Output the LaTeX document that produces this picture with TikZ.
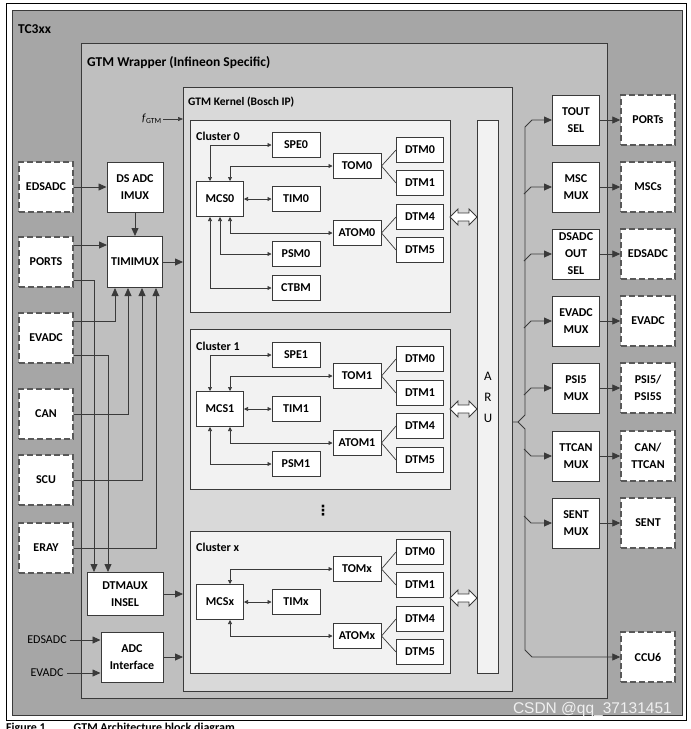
\documentclass[tikz,border=0pt]{standalone}
\usepackage{fontspec}
\setmainfont{Carlito}
\newfontfamily\wmfont{Liberation Sans}
\newfontfamily\symfont{DejaVu Sans}
\usetikzlibrary{arrows.meta}
\definecolor{tcgray}{HTML}{A6A6A6}
\definecolor{wrapgray}{HTML}{BFBFBF}
\definecolor{kergray}{HTML}{D9D9D9}
\definecolor{clgray}{HTML}{F2F2F2}
\definecolor{edge}{HTML}{3A3A3A}
\tikzset{
 box/.style={draw=edge,line width=1pt,fill=white,inner sep=0pt,align=center,
   font=\fontsize{12}{17}\selectfont\bfseries},
 modbox/.style={box,minimum width=48pt,minimum height=25pt},
 dtmbox/.style={box,minimum width=47pt,minimum height=25pt},
 mcsbox/.style={box,minimum width=47pt,minimum height=35pt},
 muxbox/.style={box,minimum width=47pt,minimum height=50pt},
 extbox/.style={box,draw=edge!85,dash pattern=on 6pt off 3pt,line width=1.4pt,
   minimum width=54pt,minimum height=50pt},
 panel/.style={draw=edge,line width=1pt,inner sep=0pt,anchor=north west},
 boxtitle/.style={anchor=west,inner sep=0pt,font=\fontsize{13.5}{16}\selectfont\bfseries},
 arr/.style={draw=edge,line width=0.8pt,-{Triangle[length=8pt,width=7pt]}},
 thinarr/.style={draw=edge,line width=0.6pt,-{Triangle[length=5pt,width=4pt]}},
 biarr/.style={draw=edge,line width=0.7pt,
   {Triangle[length=4pt,width=4pt]}-{Triangle[length=4pt,width=4pt]}},
 wire/.style={draw=edge,line width=0.7pt},
}

\begin{document}
\begin{tikzpicture}[x=1pt,y=-1pt]
        \useasboundingbox (0,0) rectangle (691,729);
        \draw[black,line width=0.8pt,fill=white] (6,3) rectangle (686,720);

        \node[panel,fill=tcgray,minimum width=670pt,minimum height=705pt] (tc) at (12,10) {};
        \node[boxtitle] (tctitle) at (18,29) {TC3xx};
        \node[panel,fill=wrapgray,minimum width=526pt,minimum height=655pt] (wrapper) at (81,43) {};
        \node[boxtitle] (wraptitle) at (87,63) {GTM Wrapper (Infineon Specific)};
        \node[panel,fill=kergray,minimum width=329pt,minimum height=604pt] (kernel) at (183,87) {};
        \node[boxtitle,font=\fontsize{11.5}{14}\selectfont\bfseries] (kertitle) at (188,102) {GTM Kernel (Bosch IP)};

        \node[panel,fill=clgray,minimum width=260pt,minimum height=192pt] (cluster0) at (190,120) {};
        \node[panel,fill=clgray,minimum width=260pt,minimum height=160pt] (cluster1) at (190,329) {};
        \node[panel,fill=clgray,minimum width=260pt,minimum height=142pt] (clusterx) at (190,531) {};
        \node[panel,fill=clgray,minimum width=21pt,minimum height=553pt,align=center,
              font=\fontsize{13}{21}\selectfont] (aru) at (477,120) {A\\R\\U};

        \foreach \y in {217,409,598}
            \draw[draw=edge,line width=0.8pt,fill=white] (450,\y) -- (458,\y-8) -- (458,\y-4) -- (469,\y-4)
                -- (469,\y-8) -- (477,\y) -- (469,\y+8) -- (469,\y+4) -- (458,\y+4) -- (458,\y+8) -- cycle;

        \node[anchor=east,inner sep=1pt,font=\fontsize{11}{13}\selectfont] (fgtm) at (163,119) {\textit{f}\textsubscript{GTM}};
        \draw[thinarr] (fgtm.east) -- (fgtm.east -| kernel.west);

        % cluster 0
        \node[boxtitle,font=\fontsize{12}{14}\selectfont\bfseries] (cl0title) at (196,136) {Cluster 0};
        \node[mcsbox] (mcs0) at (220,199) {MCS0};
        \node[modbox] (spe0) at (296,145) {SPE0};
        \node[modbox] (tim0) at (296,199) {TIM0};
        \node[modbox] (psm0) at (296,254) {PSM0};
        \node[modbox] (ctbm0) at (296,288) {CTBM};
        \node[modbox] (tom0) at (357,166) {TOM0};
        \node[modbox] (atom0) at (357,233) {ATOM0};
        \node[dtmbox] (dtm00) at (420,150) {DTM0};
        \node[dtmbox] (dtm01) at (420,183) {DTM1};
        \node[dtmbox] (dtm04) at (420,217) {DTM4};
        \node[dtmbox] (dtm05) at (420,250) {DTM5};
        \draw[biarr] ([xshift=-10pt]mcs0.north) |- (spe0);
        \draw[biarr] ([xshift=10pt]mcs0.north) |- (tom0);
        \draw[biarr] (mcs0) -- (tim0);
        \draw[biarr] ([xshift=10pt]mcs0.south) |- (atom0);
        \draw[biarr] (mcs0.south) |- (psm0);
        \draw[biarr] ([xshift=-10pt]mcs0.south) |- (ctbm0);
        \draw[wire] (tom0.east) -- (dtm00.west) (tom0.east) -- (dtm01.west)
                    (atom0.east) -- (dtm04.west) (atom0.east) -- (dtm05.west);

        % cluster 1
        \node[boxtitle,font=\fontsize{12}{14}\selectfont\bfseries] (cl1title) at (196,346) {Cluster 1};
        \node[mcsbox] (mcs1) at (220,409) {MCS1};
        \node[modbox] (spe1) at (296,355) {SPE1};
        \node[modbox] (tim1) at (296,409) {TIM1};
        \node[modbox] (psm1) at (296,464) {PSM1};
        \node[modbox] (tom1) at (357,376) {TOM1};
        \node[modbox] (atom1) at (357,443) {ATOM1};
        \node[dtmbox] (dtm10) at (420,359) {DTM0};
        \node[dtmbox] (dtm11) at (420,393) {DTM1};
        \node[dtmbox] (dtm14) at (420,426) {DTM4};
        \node[dtmbox] (dtm15) at (420,460) {DTM5};
        \draw[biarr] ([xshift=-10pt]mcs1.north) |- (spe1);
        \draw[biarr] ([xshift=10pt]mcs1.north) |- (tom1);
        \draw[biarr] (mcs1) -- (tim1);
        \draw[biarr] ([xshift=10pt]mcs1.south) |- (atom1);
        \draw[biarr] ([xshift=-10pt]mcs1.south) |- (psm1);
        \draw[wire] (tom1.east) -- (dtm10.west) (tom1.east) -- (dtm11.west)
                    (atom1.east) -- (dtm14.west) (atom1.east) -- (dtm15.west);

        \node[font=\symfont\bfseries\fontsize{14}{14}\selectfont,inner sep=0pt] (dots) at (323,511) {⋮};

        % cluster x
        \node[boxtitle,font=\fontsize{12}{14}\selectfont\bfseries] (clxtitle) at (196,547) {Cluster x};
        \node[mcsbox] (mcsx) at (220,602) {MCSx};
        \node[modbox] (timx) at (296,602) {TIMx};
        \node[modbox] (tomx) at (357,569) {TOMx};
        \node[modbox] (atomx) at (357,636) {ATOMx};
        \node[dtmbox] (dtmx0) at (420,552) {DTM0};
        \node[dtmbox] (dtmx1) at (420,585) {DTM1};
        \node[dtmbox] (dtmx4) at (420,619) {DTM4};
        \node[dtmbox] (dtmx5) at (420,652) {DTM5};
        \draw[biarr] ([xshift=10pt]mcsx.north) |- (tomx);
        \draw[biarr] (mcsx) -- (timx);
        \draw[biarr] ([xshift=10pt]mcsx.south) |- (atomx);
        \draw[wire] (tomx.east) -- (dtmx0.west) (tomx.east) -- (dtmx1.west)
                    (atomx.east) -- (dtmx4.west) (atomx.east) -- (dtmx5.west);

        % left side
        \node[extbox] (edsadcL) at (46,187) {EDSADC};
        \node[extbox] (portsL) at (46,262) {PORTS};
        \node[extbox] (evadcL) at (46,338) {EVADC};
        \node[extbox] (canL) at (46,414) {CAN};
        \node[extbox] (scuL) at (46,480) {SCU};
        \node[extbox] (erayL) at (46,548) {ERAY};
        \node[box,minimum width=56pt,minimum height=50pt] (dsadc) at (135,187) {DS ADC\\IMUX};
        \node[box,minimum width=55pt,minimum height=51pt] (timimux) at (135,262) {TIMIMUX};
        \node[box,minimum width=76pt,minimum height=43pt] (dtmaux) at (125,594) {DTMAUX\\INSEL};
        \node[box,minimum width=62pt,minimum height=50pt] (adcif) at (132,657) {ADC\\Interface};
        \node[font=\fontsize{12}{14}\selectfont] (edsadcin) at (47,640) {EDSADC};
        \node[font=\fontsize{12}{14}\selectfont] (evadcin) at (47,673) {EVADC};

        \draw[arr] (edsadcL) -- (dsadc);
        \draw[arr] (dsadc) -- (timimux);
        \draw[arr] ([yshift=17pt]portsL.east) -- ([yshift=17pt]timimux.west);
        \draw[arr] ([yshift=17pt]evadcL.east) -| ([xshift=-20pt]timimux.south);
        \draw[arr] (canL) -| ([xshift=-7pt]timimux.south);
        \draw[arr] (scuL) -| ([xshift=7pt]timimux.south);
        \draw[arr] (erayL) -| ([xshift=21pt]timimux.south);
        \draw[arr] ([yshift=-18pt]portsL.east) -| ([xshift=-31pt]dtmaux.north);
        \draw[arr] ([yshift=-17pt]evadcL.east) -| ([xshift=-17pt]dtmaux.north);
        \draw[arr] (timimux) -- (timimux -| kernel.west);
        \draw[arr] (dtmaux) -- (dtmaux -| kernel.west);
        \draw[arr] (adcif) -- (adcif -| kernel.west);
        \draw[arr] (edsadcin) -- (edsadcin -| adcif.west);
        \draw[arr] (evadcin) -- (evadcin -| adcif.west);

        % right side
        \node[muxbox] (tout) at (576,120) {TOUT\\SEL};
        \node[muxbox] (msc) at (576,187) {MSC\\MUX};
        \node[muxbox] (dsout) at (576,254) {DSADC\\OUT\\SEL};
        \node[muxbox] (evmux) at (576,321) {EVADC\\MUX};
        \node[muxbox] (psimux) at (576,388) {PSI5\\MUX};
        \node[muxbox] (ttmux) at (576,456) {TTCAN\\MUX};
        \node[muxbox] (sentmux) at (576,523) {SENT\\MUX};
        \node[extbox] (portsR) at (648,120) {PORTs};
        \node[extbox] (mscR) at (648,187) {MSCs};
        \node[extbox] (edsadcR) at (648,254) {EDSADC};
        \node[extbox] (evadcR) at (648,321) {EVADC};
        \node[extbox] (psiR) at (648,388) {PSI5/\\PSI5S};
        \node[extbox] (canR) at (648,456) {CAN/\\TTCAN};
        \node[extbox] (sentR) at (648,523) {SENT};
        \node[extbox] (ccu6) at (648,657) {CCU6};

        \coordinate (split) at (518,422);
        \draw[arr] (kernel.east |- split) -- (split) -- (525,415) -- (525,127) -- (532,120) -- (tout);
        \draw[arr] (split) -- (525,429) -- (525,650) -- (532,657) -- (ccu6);
        \draw[arr] ([xshift=-28pt,yshift=-7pt]msc.west) -- ([xshift=-21pt]msc.west) -- (msc);
        \draw[arr] ([xshift=-28pt,yshift=-7pt]dsout.west) -- ([xshift=-21pt]dsout.west) -- (dsout);
        \draw[arr] ([xshift=-28pt,yshift=-7pt]evmux.west) -- ([xshift=-21pt]evmux.west) -- (evmux);
        \draw[arr] ([xshift=-28pt,yshift=-7pt]psimux.west) -- ([xshift=-21pt]psimux.west) -- (psimux);
        \draw[arr] ([xshift=-28pt,yshift=7pt]ttmux.west) -- ([xshift=-21pt]ttmux.west) -- (ttmux);
        \draw[arr] ([xshift=-28pt,yshift=7pt]sentmux.west) -- ([xshift=-21pt]sentmux.west) -- (sentmux);
        \draw[arr] (tout) -- (portsR);
        \draw[arr] (msc) -- (mscR);
        \draw[arr] (dsout) -- (edsadcR);
        \draw[arr] (evmux) -- (evadcR);
        \draw[arr] (psimux) -- (psiR);
        \draw[arr] (ttmux) -- (canR);
        \draw[arr] (sentmux) -- (sentR);

        \node[anchor=east,inner sep=0pt,font=\wmfont\fontsize{15.5}{18}\selectfont,text=white!88!gray] (wmark) at (672,709) {CSDN @qq\_37131451};
        \node[anchor=north west,inner sep=0pt,font=\fontsize{12}{14}\selectfont\bfseries] (caption) at (6,723) {Figure 1\hspace{28pt}GTM Architecture block diagram};
\end{tikzpicture}
\end{document}
